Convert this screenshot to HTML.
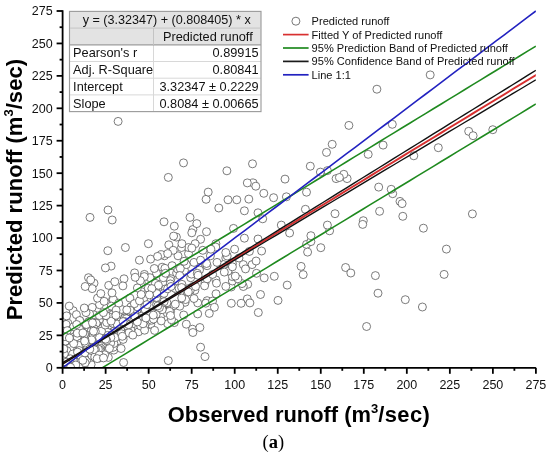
<!DOCTYPE html><html><head><meta charset="utf-8"><style>
html,body{margin:0;padding:0;background:#fff;width:550px;height:456px;overflow:hidden}
svg{display:block;font-family:"Liberation Sans",Arial,sans-serif}
</style></head><body>
<svg width="550" height="456" viewBox="0 0 550 456">
<defs><clipPath id="pc"><rect x="62.60" y="0.00" width="473.30" height="367.80"/></clipPath></defs>
<g clip-path="url(#pc)" fill="#fff" stroke="#505050" stroke-width="0.75">
<circle cx="177.5" cy="290.3" r="4.0"/>
<circle cx="231.2" cy="287.0" r="4.0"/>
<circle cx="73.6" cy="367.3" r="4.0"/>
<circle cx="225.8" cy="258.0" r="4.0"/>
<circle cx="327.4" cy="170.6" r="4.0"/>
<circle cx="220.5" cy="265.3" r="4.0"/>
<circle cx="88.3" cy="329.7" r="4.0"/>
<circle cx="156.0" cy="290.2" r="4.0"/>
<circle cx="305.4" cy="209.3" r="4.0"/>
<circle cx="170.6" cy="311.5" r="4.0"/>
<circle cx="94.0" cy="283.2" r="4.0"/>
<circle cx="107.6" cy="335.4" r="4.0"/>
<circle cx="141.2" cy="291.5" r="4.0"/>
<circle cx="66.8" cy="367.0" r="4.0"/>
<circle cx="100.8" cy="328.4" r="4.0"/>
<circle cx="117.7" cy="331.0" r="4.0"/>
<circle cx="93.4" cy="352.5" r="4.0"/>
<circle cx="65.7" cy="340.7" r="4.0"/>
<circle cx="92.5" cy="355.1" r="4.0"/>
<circle cx="207.1" cy="300.7" r="4.0"/>
<circle cx="113.7" cy="300.6" r="4.0"/>
<circle cx="110.9" cy="343.4" r="4.0"/>
<circle cx="98.5" cy="337.9" r="4.0"/>
<circle cx="101.7" cy="348.7" r="4.0"/>
<circle cx="87.2" cy="354.4" r="4.0"/>
<circle cx="392.7" cy="193.7" r="4.0"/>
<circle cx="227.2" cy="270.0" r="4.0"/>
<circle cx="205.0" cy="283.2" r="4.0"/>
<circle cx="158.4" cy="276.7" r="4.0"/>
<circle cx="105.4" cy="342.9" r="4.0"/>
<circle cx="413.8" cy="155.8" r="4.0"/>
<circle cx="347.1" cy="178.6" r="4.0"/>
<circle cx="93.7" cy="314.7" r="4.0"/>
<circle cx="112.5" cy="324.5" r="4.0"/>
<circle cx="99.5" cy="304.7" r="4.0"/>
<circle cx="140.0" cy="319.1" r="4.0"/>
<circle cx="147.5" cy="301.6" r="4.0"/>
<circle cx="260.5" cy="294.5" r="4.0"/>
<circle cx="68.0" cy="358.4" r="4.0"/>
<circle cx="112.6" cy="299.6" r="4.0"/>
<circle cx="286.4" cy="196.8" r="4.0"/>
<circle cx="378.7" cy="187.1" r="4.0"/>
<circle cx="161.3" cy="302.7" r="4.0"/>
<circle cx="123.6" cy="362.5" r="4.0"/>
<circle cx="88.4" cy="321.9" r="4.0"/>
<circle cx="100.1" cy="336.0" r="4.0"/>
<circle cx="142.4" cy="313.8" r="4.0"/>
<circle cx="247.3" cy="298.9" r="4.0"/>
<circle cx="141.3" cy="282.6" r="4.0"/>
<circle cx="155.4" cy="283.4" r="4.0"/>
<circle cx="71.4" cy="361.6" r="4.0"/>
<circle cx="164.4" cy="255.8" r="4.0"/>
<circle cx="127.0" cy="329.9" r="4.0"/>
<circle cx="88.3" cy="335.7" r="4.0"/>
<circle cx="119.8" cy="337.5" r="4.0"/>
<circle cx="143.6" cy="298.9" r="4.0"/>
<circle cx="100.5" cy="334.8" r="4.0"/>
<circle cx="152.9" cy="305.8" r="4.0"/>
<circle cx="66.3" cy="349.5" r="4.0"/>
<circle cx="70.6" cy="354.5" r="4.0"/>
<circle cx="112.7" cy="326.2" r="4.0"/>
<circle cx="88.5" cy="277.7" r="4.0"/>
<circle cx="197.7" cy="302.9" r="4.0"/>
<circle cx="167.1" cy="277.4" r="4.0"/>
<circle cx="161.6" cy="298.4" r="4.0"/>
<circle cx="232.4" cy="281.0" r="4.0"/>
<circle cx="150.6" cy="259.1" r="4.0"/>
<circle cx="244.4" cy="210.8" r="4.0"/>
<circle cx="78.8" cy="327.9" r="4.0"/>
<circle cx="472.4" cy="213.9" r="4.0"/>
<circle cx="129.9" cy="298.1" r="4.0"/>
<circle cx="306.5" cy="192.2" r="4.0"/>
<circle cx="102.5" cy="343.4" r="4.0"/>
<circle cx="129.9" cy="330.4" r="4.0"/>
<circle cx="70.3" cy="348.8" r="4.0"/>
<circle cx="368.2" cy="154.3" r="4.0"/>
<circle cx="101.5" cy="331.1" r="4.0"/>
<circle cx="329.6" cy="230.8" r="4.0"/>
<circle cx="134.3" cy="326.7" r="4.0"/>
<circle cx="278.0" cy="300.4" r="4.0"/>
<circle cx="161.1" cy="254.7" r="4.0"/>
<circle cx="113.4" cy="336.6" r="4.0"/>
<circle cx="90.7" cy="354.6" r="4.0"/>
<circle cx="423.4" cy="228.2" r="4.0"/>
<circle cx="165.7" cy="304.0" r="4.0"/>
<circle cx="127.0" cy="330.2" r="4.0"/>
<circle cx="137.4" cy="287.9" r="4.0"/>
<circle cx="190.7" cy="277.7" r="4.0"/>
<circle cx="247.7" cy="284.3" r="4.0"/>
<circle cx="186.3" cy="324.2" r="4.0"/>
<circle cx="263.8" cy="193.3" r="4.0"/>
<circle cx="91.1" cy="364.5" r="4.0"/>
<circle cx="185.1" cy="302.3" r="4.0"/>
<circle cx="96.9" cy="322.8" r="4.0"/>
<circle cx="97.5" cy="298.2" r="4.0"/>
<circle cx="118.5" cy="315.3" r="4.0"/>
<circle cx="194.9" cy="290.3" r="4.0"/>
<circle cx="345.6" cy="267.5" r="4.0"/>
<circle cx="205.5" cy="264.8" r="4.0"/>
<circle cx="115.3" cy="324.5" r="4.0"/>
<circle cx="176.6" cy="273.0" r="4.0"/>
<circle cx="113.7" cy="333.9" r="4.0"/>
<circle cx="400.0" cy="201.4" r="4.0"/>
<circle cx="348.9" cy="125.4" r="4.0"/>
<circle cx="67.9" cy="323.2" r="4.0"/>
<circle cx="128.2" cy="311.5" r="4.0"/>
<circle cx="379.6" cy="211.3" r="4.0"/>
<circle cx="129.5" cy="314.4" r="4.0"/>
<circle cx="239.0" cy="258.0" r="4.0"/>
<circle cx="177.5" cy="269.0" r="4.0"/>
<circle cx="468.7" cy="131.3" r="4.0"/>
<circle cx="91.1" cy="331.1" r="4.0"/>
<circle cx="148.8" cy="324.5" r="4.0"/>
<circle cx="162.2" cy="267.2" r="4.0"/>
<circle cx="96.4" cy="351.5" r="4.0"/>
<circle cx="82.1" cy="335.5" r="4.0"/>
<circle cx="205.8" cy="303.2" r="4.0"/>
<circle cx="66.2" cy="361.6" r="4.0"/>
<circle cx="375.4" cy="275.6" r="4.0"/>
<circle cx="473.1" cy="135.7" r="4.0"/>
<circle cx="281.3" cy="225.1" r="4.0"/>
<circle cx="92.2" cy="307.4" r="4.0"/>
<circle cx="86.4" cy="359.9" r="4.0"/>
<circle cx="117.5" cy="327.8" r="4.0"/>
<circle cx="99.4" cy="358.0" r="4.0"/>
<circle cx="106.3" cy="340.4" r="4.0"/>
<circle cx="126.0" cy="312.6" r="4.0"/>
<circle cx="146.6" cy="318.3" r="4.0"/>
<circle cx="156.5" cy="273.3" r="4.0"/>
<circle cx="89.6" cy="313.9" r="4.0"/>
<circle cx="332.2" cy="144.3" r="4.0"/>
<circle cx="185.5" cy="299.5" r="4.0"/>
<circle cx="326.5" cy="152.4" r="4.0"/>
<circle cx="130.9" cy="306.9" r="4.0"/>
<circle cx="204.6" cy="285.8" r="4.0"/>
<circle cx="150.8" cy="324.2" r="4.0"/>
<circle cx="320.4" cy="172.1" r="4.0"/>
<circle cx="258.3" cy="312.5" r="4.0"/>
<circle cx="73.2" cy="310.7" r="4.0"/>
<circle cx="146.9" cy="321.9" r="4.0"/>
<circle cx="68.3" cy="331.0" r="4.0"/>
<circle cx="144.4" cy="274.4" r="4.0"/>
<circle cx="103.7" cy="350.7" r="4.0"/>
<circle cx="83.5" cy="363.2" r="4.0"/>
<circle cx="363.3" cy="220.7" r="4.0"/>
<circle cx="102.0" cy="319.2" r="4.0"/>
<circle cx="106.2" cy="340.0" r="4.0"/>
<circle cx="74.8" cy="356.6" r="4.0"/>
<circle cx="264.2" cy="277.9" r="4.0"/>
<circle cx="80.2" cy="360.6" r="4.0"/>
<circle cx="142.2" cy="310.4" r="4.0"/>
<circle cx="135.9" cy="321.6" r="4.0"/>
<circle cx="105.9" cy="352.2" r="4.0"/>
<circle cx="134.6" cy="272.9" r="4.0"/>
<circle cx="137.7" cy="320.0" r="4.0"/>
<circle cx="80.4" cy="361.2" r="4.0"/>
<circle cx="80.0" cy="356.7" r="4.0"/>
<circle cx="80.1" cy="330.7" r="4.0"/>
<circle cx="191.4" cy="274.1" r="4.0"/>
<circle cx="64.2" cy="353.0" r="4.0"/>
<circle cx="92.2" cy="288.6" r="4.0"/>
<circle cx="233.5" cy="228.4" r="4.0"/>
<circle cx="88.1" cy="344.7" r="4.0"/>
<circle cx="165.5" cy="288.9" r="4.0"/>
<circle cx="67.9" cy="339.0" r="4.0"/>
<circle cx="218.8" cy="208.0" r="4.0"/>
<circle cx="126.7" cy="315.1" r="4.0"/>
<circle cx="157.6" cy="256.4" r="4.0"/>
<circle cx="149.9" cy="277.7" r="4.0"/>
<circle cx="492.8" cy="129.7" r="4.0"/>
<circle cx="90.4" cy="335.2" r="4.0"/>
<circle cx="438.3" cy="147.7" r="4.0"/>
<circle cx="241.1" cy="303.3" r="4.0"/>
<circle cx="161.0" cy="304.0" r="4.0"/>
<circle cx="212.5" cy="301.1" r="4.0"/>
<circle cx="181.9" cy="284.3" r="4.0"/>
<circle cx="199.5" cy="270.0" r="4.0"/>
<circle cx="175.2" cy="288.4" r="4.0"/>
<circle cx="145.3" cy="314.3" r="4.0"/>
<circle cx="210.4" cy="255.8" r="4.0"/>
<circle cx="96.2" cy="323.2" r="4.0"/>
<circle cx="86.4" cy="355.4" r="4.0"/>
<circle cx="127.3" cy="310.8" r="4.0"/>
<circle cx="227.2" cy="256.0" r="4.0"/>
<circle cx="79.8" cy="320.7" r="4.0"/>
<circle cx="190.0" cy="217.4" r="4.0"/>
<circle cx="69.3" cy="340.3" r="4.0"/>
<circle cx="174.1" cy="305.7" r="4.0"/>
<circle cx="258.0" cy="239.0" r="4.0"/>
<circle cx="80.6" cy="360.3" r="4.0"/>
<circle cx="179.8" cy="306.2" r="4.0"/>
<circle cx="66.0" cy="328.2" r="4.0"/>
<circle cx="100.8" cy="293.6" r="4.0"/>
<circle cx="178.0" cy="255.8" r="4.0"/>
<circle cx="79.1" cy="353.1" r="4.0"/>
<circle cx="192.9" cy="229.5" r="4.0"/>
<circle cx="215.9" cy="243.7" r="4.0"/>
<circle cx="422.4" cy="307.0" r="4.0"/>
<circle cx="127.8" cy="311.7" r="4.0"/>
<circle cx="89.8" cy="350.2" r="4.0"/>
<circle cx="110.7" cy="344.6" r="4.0"/>
<circle cx="301.1" cy="266.4" r="4.0"/>
<circle cx="182.9" cy="272.2" r="4.0"/>
<circle cx="171.0" cy="278.8" r="4.0"/>
<circle cx="69.2" cy="306.1" r="4.0"/>
<circle cx="92.9" cy="335.0" r="4.0"/>
<circle cx="88.4" cy="339.5" r="4.0"/>
<circle cx="214.4" cy="307.3" r="4.0"/>
<circle cx="67.7" cy="353.8" r="4.0"/>
<circle cx="97.5" cy="340.0" r="4.0"/>
<circle cx="137.9" cy="307.1" r="4.0"/>
<circle cx="200.6" cy="239.3" r="4.0"/>
<circle cx="122.2" cy="325.8" r="4.0"/>
<circle cx="391.2" cy="189.3" r="4.0"/>
<circle cx="145.4" cy="313.5" r="4.0"/>
<circle cx="206.1" cy="199.3" r="4.0"/>
<circle cx="192.5" cy="329.2" r="4.0"/>
<circle cx="289.6" cy="233.0" r="4.0"/>
<circle cx="205.0" cy="356.6" r="4.0"/>
<circle cx="249.4" cy="251.4" r="4.0"/>
<circle cx="81.3" cy="352.1" r="4.0"/>
<circle cx="188.5" cy="253.6" r="4.0"/>
<circle cx="82.2" cy="358.2" r="4.0"/>
<circle cx="392.3" cy="124.3" r="4.0"/>
<circle cx="63.6" cy="359.8" r="4.0"/>
<circle cx="335.0" cy="213.7" r="4.0"/>
<circle cx="77.3" cy="338.1" r="4.0"/>
<circle cx="107.8" cy="250.7" r="4.0"/>
<circle cx="77.8" cy="350.1" r="4.0"/>
<circle cx="121.2" cy="336.9" r="4.0"/>
<circle cx="82.7" cy="357.5" r="4.0"/>
<circle cx="200.6" cy="347.2" r="4.0"/>
<circle cx="80.5" cy="356.0" r="4.0"/>
<circle cx="101.7" cy="346.0" r="4.0"/>
<circle cx="134.4" cy="303.7" r="4.0"/>
<circle cx="67.2" cy="347.7" r="4.0"/>
<circle cx="106.0" cy="343.2" r="4.0"/>
<circle cx="188.5" cy="247.5" r="4.0"/>
<circle cx="99.6" cy="357.5" r="4.0"/>
<circle cx="140.9" cy="317.1" r="4.0"/>
<circle cx="100.7" cy="348.5" r="4.0"/>
<circle cx="148.3" cy="288.2" r="4.0"/>
<circle cx="114.6" cy="327.6" r="4.0"/>
<circle cx="81.1" cy="330.4" r="4.0"/>
<circle cx="207.1" cy="265.7" r="4.0"/>
<circle cx="122.0" cy="332.7" r="4.0"/>
<circle cx="85.2" cy="324.3" r="4.0"/>
<circle cx="86.3" cy="324.5" r="4.0"/>
<circle cx="243.3" cy="264.6" r="4.0"/>
<circle cx="124.0" cy="319.5" r="4.0"/>
<circle cx="209.3" cy="313.4" r="4.0"/>
<circle cx="109.4" cy="324.9" r="4.0"/>
<circle cx="69.9" cy="355.3" r="4.0"/>
<circle cx="136.4" cy="326.0" r="4.0"/>
<circle cx="195.1" cy="243.7" r="4.0"/>
<circle cx="170.3" cy="280.6" r="4.0"/>
<circle cx="76.4" cy="314.6" r="4.0"/>
<circle cx="108.0" cy="210.0" r="4.0"/>
<circle cx="184.4" cy="261.5" r="4.0"/>
<circle cx="67.4" cy="366.0" r="4.0"/>
<circle cx="170.3" cy="283.9" r="4.0"/>
<circle cx="163.3" cy="277.7" r="4.0"/>
<circle cx="94.8" cy="341.9" r="4.0"/>
<circle cx="111.5" cy="343.3" r="4.0"/>
<circle cx="142.9" cy="322.5" r="4.0"/>
<circle cx="122.9" cy="329.4" r="4.0"/>
<circle cx="79.7" cy="320.5" r="4.0"/>
<circle cx="144.3" cy="276.6" r="4.0"/>
<circle cx="192.9" cy="286.5" r="4.0"/>
<circle cx="132.2" cy="331.1" r="4.0"/>
<circle cx="79.5" cy="329.2" r="4.0"/>
<circle cx="405.3" cy="299.7" r="4.0"/>
<circle cx="87.6" cy="344.4" r="4.0"/>
<circle cx="126.1" cy="313.4" r="4.0"/>
<circle cx="76.8" cy="362.5" r="4.0"/>
<circle cx="243.3" cy="286.5" r="4.0"/>
<circle cx="336.1" cy="178.6" r="4.0"/>
<circle cx="91.6" cy="350.7" r="4.0"/>
<circle cx="90.5" cy="357.4" r="4.0"/>
<circle cx="236.8" cy="199.8" r="4.0"/>
<circle cx="66.1" cy="324.4" r="4.0"/>
<circle cx="306.5" cy="244.4" r="4.0"/>
<circle cx="86.0" cy="312.6" r="4.0"/>
<circle cx="79.1" cy="366.9" r="4.0"/>
<circle cx="252.5" cy="163.8" r="4.0"/>
<circle cx="118.1" cy="121.4" r="4.0"/>
<circle cx="232.4" cy="263.5" r="4.0"/>
<circle cx="118.3" cy="326.0" r="4.0"/>
<circle cx="168.3" cy="177.4" r="4.0"/>
<circle cx="157.7" cy="300.2" r="4.0"/>
<circle cx="117.7" cy="321.3" r="4.0"/>
<circle cx="144.2" cy="310.5" r="4.0"/>
<circle cx="113.8" cy="350.1" r="4.0"/>
<circle cx="162.7" cy="306.6" r="4.0"/>
<circle cx="95.2" cy="353.1" r="4.0"/>
<circle cx="73.2" cy="361.4" r="4.0"/>
<circle cx="69.9" cy="330.4" r="4.0"/>
<circle cx="76.0" cy="344.8" r="4.0"/>
<circle cx="168.8" cy="244.8" r="4.0"/>
<circle cx="112.2" cy="220.0" r="4.0"/>
<circle cx="184.4" cy="270.4" r="4.0"/>
<circle cx="176.4" cy="237.1" r="4.0"/>
<circle cx="119.7" cy="333.9" r="4.0"/>
<circle cx="72.9" cy="359.0" r="4.0"/>
<circle cx="75.0" cy="345.8" r="4.0"/>
<circle cx="156.5" cy="304.7" r="4.0"/>
<circle cx="310.9" cy="241.6" r="4.0"/>
<circle cx="63.6" cy="344.7" r="4.0"/>
<circle cx="100.0" cy="350.0" r="4.0"/>
<circle cx="117.6" cy="340.9" r="4.0"/>
<circle cx="124.9" cy="317.6" r="4.0"/>
<circle cx="90.8" cy="349.0" r="4.0"/>
<circle cx="65.9" cy="361.3" r="4.0"/>
<circle cx="207.1" cy="278.8" r="4.0"/>
<circle cx="165.5" cy="312.3" r="4.0"/>
<circle cx="92.4" cy="354.3" r="4.0"/>
<circle cx="327.4" cy="225.1" r="4.0"/>
<circle cx="70.4" cy="364.7" r="4.0"/>
<circle cx="226.9" cy="170.8" r="4.0"/>
<circle cx="160.4" cy="316.6" r="4.0"/>
<circle cx="65.3" cy="341.2" r="4.0"/>
<circle cx="73.4" cy="354.9" r="4.0"/>
<circle cx="112.5" cy="342.0" r="4.0"/>
<circle cx="100.7" cy="357.4" r="4.0"/>
<circle cx="109.6" cy="343.0" r="4.0"/>
<circle cx="186.3" cy="264.6" r="4.0"/>
<circle cx="402.8" cy="216.3" r="4.0"/>
<circle cx="147.7" cy="313.9" r="4.0"/>
<circle cx="93.1" cy="344.7" r="4.0"/>
<circle cx="148.4" cy="243.7" r="4.0"/>
<circle cx="183.5" cy="162.9" r="4.0"/>
<circle cx="75.6" cy="346.2" r="4.0"/>
<circle cx="123.1" cy="339.4" r="4.0"/>
<circle cx="274.3" cy="276.3" r="4.0"/>
<circle cx="256.5" cy="273.3" r="4.0"/>
<circle cx="138.7" cy="330.9" r="4.0"/>
<circle cx="154.3" cy="268.5" r="4.0"/>
<circle cx="249.9" cy="302.9" r="4.0"/>
<circle cx="93.4" cy="335.6" r="4.0"/>
<circle cx="181.5" cy="247.5" r="4.0"/>
<circle cx="169.5" cy="311.4" r="4.0"/>
<circle cx="228.0" cy="199.8" r="4.0"/>
<circle cx="197.7" cy="313.9" r="4.0"/>
<circle cx="91.6" cy="339.8" r="4.0"/>
<circle cx="70.2" cy="347.7" r="4.0"/>
<circle cx="191.8" cy="248.1" r="4.0"/>
<circle cx="85.4" cy="353.1" r="4.0"/>
<circle cx="80.4" cy="355.5" r="4.0"/>
<circle cx="141.8" cy="316.0" r="4.0"/>
<circle cx="108.7" cy="285.4" r="4.0"/>
<circle cx="111.5" cy="335.4" r="4.0"/>
<circle cx="157.7" cy="306.9" r="4.0"/>
<circle cx="113.3" cy="347.3" r="4.0"/>
<circle cx="252.1" cy="264.6" r="4.0"/>
<circle cx="66.9" cy="350.7" r="4.0"/>
<circle cx="151.7" cy="320.2" r="4.0"/>
<circle cx="90.0" cy="217.4" r="4.0"/>
<circle cx="287.2" cy="285.1" r="4.0"/>
<circle cx="444.1" cy="274.4" r="4.0"/>
<circle cx="85.0" cy="340.3" r="4.0"/>
<circle cx="124.0" cy="278.8" r="4.0"/>
<circle cx="77.1" cy="337.0" r="4.0"/>
<circle cx="78.3" cy="345.1" r="4.0"/>
<circle cx="81.1" cy="342.9" r="4.0"/>
<circle cx="173.2" cy="250.3" r="4.0"/>
<circle cx="112.6" cy="337.6" r="4.0"/>
<circle cx="124.8" cy="318.0" r="4.0"/>
<circle cx="232.4" cy="276.6" r="4.0"/>
<circle cx="164.0" cy="293.4" r="4.0"/>
<circle cx="80.2" cy="346.8" r="4.0"/>
<circle cx="215.7" cy="247.0" r="4.0"/>
<circle cx="167.7" cy="253.6" r="4.0"/>
<circle cx="107.4" cy="341.6" r="4.0"/>
<circle cx="320.8" cy="247.7" r="4.0"/>
<circle cx="127.6" cy="326.3" r="4.0"/>
<circle cx="228.0" cy="271.1" r="4.0"/>
<circle cx="164.8" cy="303.2" r="4.0"/>
<circle cx="144.6" cy="326.1" r="4.0"/>
<circle cx="63.8" cy="359.8" r="4.0"/>
<circle cx="215.9" cy="279.9" r="4.0"/>
<circle cx="116.0" cy="312.4" r="4.0"/>
<circle cx="378.0" cy="293.2" r="4.0"/>
<circle cx="79.2" cy="345.5" r="4.0"/>
<circle cx="121.5" cy="309.4" r="4.0"/>
<circle cx="303.2" cy="274.6" r="4.0"/>
<circle cx="63.3" cy="360.7" r="4.0"/>
<circle cx="114.8" cy="281.7" r="4.0"/>
<circle cx="310.9" cy="235.7" r="4.0"/>
<circle cx="183.7" cy="315.0" r="4.0"/>
<circle cx="114.5" cy="322.2" r="4.0"/>
<circle cx="113.9" cy="343.5" r="4.0"/>
<circle cx="99.4" cy="315.5" r="4.0"/>
<circle cx="199.9" cy="327.5" r="4.0"/>
<circle cx="110.7" cy="343.1" r="4.0"/>
<circle cx="84.5" cy="334.0" r="4.0"/>
<circle cx="197.3" cy="273.3" r="4.0"/>
<circle cx="310.3" cy="166.2" r="4.0"/>
<circle cx="402.1" cy="203.6" r="4.0"/>
<circle cx="108.3" cy="357.4" r="4.0"/>
<circle cx="167.7" cy="323.7" r="4.0"/>
<circle cx="89.2" cy="347.3" r="4.0"/>
<circle cx="125.1" cy="333.6" r="4.0"/>
<circle cx="223.6" cy="264.6" r="4.0"/>
<circle cx="106.7" cy="318.9" r="4.0"/>
<circle cx="140.3" cy="280.7" r="4.0"/>
<circle cx="273.6" cy="197.7" r="4.0"/>
<circle cx="86.5" cy="360.4" r="4.0"/>
<circle cx="62.9" cy="364.7" r="4.0"/>
<circle cx="167.6" cy="288.8" r="4.0"/>
<circle cx="120.7" cy="330.2" r="4.0"/>
<circle cx="256.1" cy="261.0" r="4.0"/>
<circle cx="153.2" cy="317.7" r="4.0"/>
<circle cx="231.3" cy="303.3" r="4.0"/>
<circle cx="180.3" cy="268.6" r="4.0"/>
<circle cx="109.4" cy="348.5" r="4.0"/>
<circle cx="156.5" cy="297.5" r="4.0"/>
<circle cx="174.3" cy="322.6" r="4.0"/>
<circle cx="232.4" cy="266.8" r="4.0"/>
<circle cx="172.1" cy="265.7" r="4.0"/>
<circle cx="224.3" cy="272.1" r="4.0"/>
<circle cx="94.2" cy="328.8" r="4.0"/>
<circle cx="95.3" cy="331.5" r="4.0"/>
<circle cx="242.0" cy="283.6" r="4.0"/>
<circle cx="206.5" cy="263.5" r="4.0"/>
<circle cx="98.4" cy="349.2" r="4.0"/>
<circle cx="159.6" cy="309.9" r="4.0"/>
<circle cx="262.7" cy="218.8" r="4.0"/>
<circle cx="138.4" cy="318.0" r="4.0"/>
<circle cx="114.5" cy="324.1" r="4.0"/>
<circle cx="210.9" cy="249.2" r="4.0"/>
<circle cx="196.8" cy="223.6" r="4.0"/>
<circle cx="138.4" cy="328.5" r="4.0"/>
<circle cx="111.6" cy="318.3" r="4.0"/>
<circle cx="166.9" cy="302.7" r="4.0"/>
<circle cx="87.6" cy="347.1" r="4.0"/>
<circle cx="194.0" cy="262.4" r="4.0"/>
<circle cx="366.6" cy="326.5" r="4.0"/>
<circle cx="113.3" cy="299.5" r="4.0"/>
<circle cx="156.9" cy="293.6" r="4.0"/>
<circle cx="198.1" cy="275.3" r="4.0"/>
<circle cx="73.6" cy="326.8" r="4.0"/>
<circle cx="67.2" cy="330.7" r="4.0"/>
<circle cx="202.8" cy="250.3" r="4.0"/>
<circle cx="138.6" cy="331.8" r="4.0"/>
<circle cx="128.9" cy="332.8" r="4.0"/>
<circle cx="225.8" cy="286.4" r="4.0"/>
<circle cx="84.3" cy="308.0" r="4.0"/>
<circle cx="118.7" cy="303.2" r="4.0"/>
<circle cx="92.5" cy="322.9" r="4.0"/>
<circle cx="171.5" cy="319.7" r="4.0"/>
<circle cx="130.1" cy="310.3" r="4.0"/>
<circle cx="111.1" cy="266.1" r="4.0"/>
<circle cx="181.9" cy="243.7" r="4.0"/>
<circle cx="96.2" cy="356.3" r="4.0"/>
<circle cx="244.4" cy="238.2" r="4.0"/>
<circle cx="90.2" cy="349.2" r="4.0"/>
<circle cx="72.6" cy="354.1" r="4.0"/>
<circle cx="139.5" cy="300.8" r="4.0"/>
<circle cx="140.6" cy="326.0" r="4.0"/>
<circle cx="171.0" cy="286.5" r="4.0"/>
<circle cx="156.1" cy="314.4" r="4.0"/>
<circle cx="179.7" cy="275.5" r="4.0"/>
<circle cx="141.2" cy="294.5" r="4.0"/>
<circle cx="189.2" cy="288.4" r="4.0"/>
<circle cx="253.2" cy="182.9" r="4.0"/>
<circle cx="164.9" cy="268.3" r="4.0"/>
<circle cx="79.2" cy="350.5" r="4.0"/>
<circle cx="73.7" cy="343.6" r="4.0"/>
<circle cx="77.5" cy="352.1" r="4.0"/>
<circle cx="144.6" cy="330.2" r="4.0"/>
<circle cx="105.4" cy="267.9" r="4.0"/>
<circle cx="200.6" cy="260.2" r="4.0"/>
<circle cx="64.3" cy="353.9" r="4.0"/>
<circle cx="99.5" cy="337.6" r="4.0"/>
<circle cx="109.5" cy="314.5" r="4.0"/>
<circle cx="125.4" cy="247.5" r="4.0"/>
<circle cx="212.6" cy="274.4" r="4.0"/>
<circle cx="71.2" cy="364.2" r="4.0"/>
<circle cx="186.7" cy="290.9" r="4.0"/>
<circle cx="144.8" cy="306.6" r="4.0"/>
<circle cx="164.0" cy="221.8" r="4.0"/>
<circle cx="121.1" cy="348.5" r="4.0"/>
<circle cx="164.1" cy="301.7" r="4.0"/>
<circle cx="115.4" cy="337.5" r="4.0"/>
<circle cx="153.5" cy="319.1" r="4.0"/>
<circle cx="85.0" cy="352.9" r="4.0"/>
<circle cx="95.4" cy="349.5" r="4.0"/>
<circle cx="66.7" cy="363.2" r="4.0"/>
<circle cx="158.4" cy="285.3" r="4.0"/>
<circle cx="206.5" cy="231.7" r="4.0"/>
<circle cx="165.5" cy="273.3" r="4.0"/>
<circle cx="112.7" cy="323.3" r="4.0"/>
<circle cx="216.5" cy="283.2" r="4.0"/>
<circle cx="132.8" cy="335.1" r="4.0"/>
<circle cx="258.0" cy="212.8" r="4.0"/>
<circle cx="162.0" cy="308.2" r="4.0"/>
<circle cx="93.5" cy="331.2" r="4.0"/>
<circle cx="67.8" cy="363.7" r="4.0"/>
<circle cx="104.1" cy="301.3" r="4.0"/>
<circle cx="77.3" cy="333.2" r="4.0"/>
<circle cx="112.6" cy="314.6" r="4.0"/>
<circle cx="71.3" cy="363.8" r="4.0"/>
<circle cx="105.2" cy="325.0" r="4.0"/>
<circle cx="143.0" cy="323.8" r="4.0"/>
<circle cx="111.3" cy="306.1" r="4.0"/>
<circle cx="66.6" cy="315.9" r="4.0"/>
<circle cx="105.5" cy="338.7" r="4.0"/>
<circle cx="121.3" cy="333.7" r="4.0"/>
<circle cx="383.1" cy="145.1" r="4.0"/>
<circle cx="126.3" cy="318.7" r="4.0"/>
<circle cx="112.0" cy="292.9" r="4.0"/>
<circle cx="73.0" cy="363.8" r="4.0"/>
<circle cx="91.9" cy="355.6" r="4.0"/>
<circle cx="190.4" cy="290.0" r="4.0"/>
<circle cx="184.1" cy="261.3" r="4.0"/>
<circle cx="67.8" cy="364.8" r="4.0"/>
<circle cx="72.2" cy="363.8" r="4.0"/>
<circle cx="162.2" cy="309.7" r="4.0"/>
<circle cx="106.7" cy="322.5" r="4.0"/>
<circle cx="208.2" cy="192.1" r="4.0"/>
<circle cx="192.9" cy="332.5" r="4.0"/>
<circle cx="446.4" cy="249.1" r="4.0"/>
<circle cx="139.4" cy="260.2" r="4.0"/>
<circle cx="76.7" cy="324.5" r="4.0"/>
<circle cx="175.3" cy="304.2" r="4.0"/>
<circle cx="124.8" cy="321.6" r="4.0"/>
<circle cx="134.8" cy="316.3" r="4.0"/>
<circle cx="63.8" cy="348.9" r="4.0"/>
<circle cx="91.7" cy="350.7" r="4.0"/>
<circle cx="85.1" cy="362.8" r="4.0"/>
<circle cx="343.8" cy="174.3" r="4.0"/>
<circle cx="339.4" cy="177.5" r="4.0"/>
<circle cx="194.0" cy="298.5" r="4.0"/>
<circle cx="108.9" cy="316.8" r="4.0"/>
<circle cx="179.1" cy="288.4" r="4.0"/>
<circle cx="64.9" cy="336.6" r="4.0"/>
<circle cx="135.2" cy="277.3" r="4.0"/>
<circle cx="195.6" cy="286.5" r="4.0"/>
<circle cx="110.8" cy="337.6" r="4.0"/>
<circle cx="376.9" cy="89.2" r="4.0"/>
<circle cx="94.7" cy="357.0" r="4.0"/>
<circle cx="362.7" cy="224.4" r="4.0"/>
<circle cx="145.2" cy="309.7" r="4.0"/>
<circle cx="117.1" cy="324.1" r="4.0"/>
<circle cx="261.6" cy="251.0" r="4.0"/>
<circle cx="237.9" cy="278.8" r="4.0"/>
<circle cx="69.4" cy="338.0" r="4.0"/>
<circle cx="73.2" cy="360.4" r="4.0"/>
<circle cx="122.9" cy="285.9" r="4.0"/>
<circle cx="168.3" cy="360.6" r="4.0"/>
<circle cx="82.8" cy="360.3" r="4.0"/>
<circle cx="245.5" cy="268.9" r="4.0"/>
<circle cx="75.8" cy="365.0" r="4.0"/>
<circle cx="247.3" cy="182.9" r="4.0"/>
<circle cx="85.3" cy="343.0" r="4.0"/>
<circle cx="188.3" cy="291.9" r="4.0"/>
<circle cx="104.6" cy="354.8" r="4.0"/>
<circle cx="159.4" cy="307.6" r="4.0"/>
<circle cx="94.2" cy="349.7" r="4.0"/>
<circle cx="82.9" cy="332.9" r="4.0"/>
<circle cx="147.0" cy="304.6" r="4.0"/>
<circle cx="106.7" cy="340.5" r="4.0"/>
<circle cx="181.7" cy="298.0" r="4.0"/>
<circle cx="111.1" cy="321.1" r="4.0"/>
<circle cx="70.4" cy="358.8" r="4.0"/>
<circle cx="151.8" cy="288.6" r="4.0"/>
<circle cx="137.3" cy="321.9" r="4.0"/>
<circle cx="173.6" cy="236.1" r="4.0"/>
<circle cx="248.8" cy="199.1" r="4.0"/>
<circle cx="350.8" cy="273.0" r="4.0"/>
<circle cx="89.8" cy="349.2" r="4.0"/>
<circle cx="191.8" cy="232.8" r="4.0"/>
<circle cx="126.8" cy="309.9" r="4.0"/>
<circle cx="99.3" cy="355.1" r="4.0"/>
<circle cx="105.7" cy="339.2" r="4.0"/>
<circle cx="97.2" cy="358.6" r="4.0"/>
<circle cx="128.7" cy="324.7" r="4.0"/>
<circle cx="63.6" cy="360.9" r="4.0"/>
<circle cx="255.8" cy="186.2" r="4.0"/>
<circle cx="66.3" cy="362.2" r="4.0"/>
<circle cx="285.0" cy="179.1" r="4.0"/>
<circle cx="217.0" cy="262.4" r="4.0"/>
<circle cx="307.6" cy="252.1" r="4.0"/>
<circle cx="85.2" cy="286.5" r="4.0"/>
<circle cx="106.0" cy="315.6" r="4.0"/>
<circle cx="149.4" cy="294.9" r="4.0"/>
<circle cx="234.6" cy="249.2" r="4.0"/>
<circle cx="154.6" cy="330.4" r="4.0"/>
<circle cx="225.8" cy="252.5" r="4.0"/>
<circle cx="103.5" cy="357.9" r="4.0"/>
<circle cx="122.3" cy="336.3" r="4.0"/>
<circle cx="181.6" cy="287.5" r="4.0"/>
<circle cx="157.8" cy="305.9" r="4.0"/>
<circle cx="123.1" cy="321.6" r="4.0"/>
<circle cx="103.4" cy="312.6" r="4.0"/>
<circle cx="161.2" cy="320.9" r="4.0"/>
<circle cx="170.5" cy="315.5" r="4.0"/>
<circle cx="70.6" cy="367.3" r="4.0"/>
<circle cx="116.1" cy="310.1" r="4.0"/>
<circle cx="90.7" cy="279.9" r="4.0"/>
<circle cx="430.2" cy="74.9" r="4.0"/>
<circle cx="216.0" cy="293.8" r="4.0"/>
<circle cx="115.9" cy="315.3" r="4.0"/>
<circle cx="84.6" cy="341.1" r="4.0"/>
<circle cx="174.3" cy="226.2" r="4.0"/>
<circle cx="153.3" cy="315.1" r="4.0"/>
<circle cx="235.3" cy="276.1" r="4.0"/>
<circle cx="145.9" cy="318.0" r="4.0"/>
</g>
<g clip-path="url(#pc)" fill="none" stroke-width="1.6" stroke-linejoin="round">
<polyline stroke="#1f8a1f" points="62.60,334.93 70.49,330.13 78.38,325.32 86.27,320.52 94.15,315.71 102.04,310.90 109.93,306.10 117.82,301.29 125.71,296.48 133.59,291.67 141.48,286.87 149.37,282.06 157.26,277.25 165.15,272.44 173.04,267.63 180.92,262.82 188.81,258.01 196.70,253.20 204.59,248.39 212.48,243.58 220.37,238.77 228.25,233.96 236.14,229.15 244.03,224.34 251.92,219.52 259.81,214.71 267.70,209.90 275.58,205.09 283.47,200.27 291.36,195.46 299.25,190.65 307.14,185.83 315.03,181.02 322.92,176.20 330.80,171.39 338.69,166.58 346.58,161.76 354.47,156.94 362.36,152.13 370.25,147.31 378.13,142.50 386.02,137.68 393.91,132.86 401.80,128.05 409.69,123.23 417.57,118.41 425.46,113.59 433.35,108.77 441.24,103.96 449.13,99.14 457.02,94.32 464.91,89.50 472.79,84.68 480.68,79.86 488.57,75.04 496.46,70.22 504.35,65.40 512.24,60.58 520.12,55.76 528.01,50.93 535.90,46.11"/>
<polyline stroke="#1f8a1f" points="62.60,392.04 70.49,387.23 78.38,382.42 86.27,377.62 94.15,372.81 102.04,368.00 109.93,363.19 117.82,358.38 125.71,353.58 133.59,348.77 141.48,343.96 149.37,339.16 157.26,334.35 165.15,329.55 173.04,324.74 180.92,319.93 188.81,315.13 196.70,310.33 204.59,305.52 212.48,300.72 220.37,295.91 228.25,291.11 236.14,286.31 244.03,281.50 251.92,276.70 259.81,271.90 267.70,267.10 275.58,262.29 283.47,257.49 291.36,252.69 299.25,247.89 307.14,243.09 315.03,238.29 322.92,233.49 330.80,228.69 338.69,223.89 346.58,219.09 354.47,214.29 362.36,209.49 370.25,204.69 378.13,199.89 386.02,195.10 393.91,190.30 401.80,185.50 409.69,180.70 417.57,175.91 425.46,171.11 433.35,166.31 441.24,161.52 449.13,156.72 457.02,151.93 464.91,147.13 472.79,142.34 480.68,137.54 488.57,132.75 496.46,127.95 504.35,123.16 512.24,118.37 520.12,113.57 528.01,108.78 535.90,103.99"/>
<polygon fill="#d83030" stroke="none" points="62.60,362.72 70.49,357.98 78.38,353.24 86.27,348.49 94.15,343.73 102.04,338.96 109.93,334.18 117.82,329.38 125.71,324.57 133.59,319.73 141.48,314.89 149.37,310.03 157.26,305.16 165.15,300.29 173.04,295.41 180.92,290.53 188.81,285.65 196.70,280.76 204.59,275.87 212.48,271.00 220.37,266.19 228.25,261.38 236.14,256.58 244.03,251.77 251.92,246.96 259.81,242.16 267.70,237.35 275.58,232.54 283.47,227.73 291.36,222.93 299.25,218.12 307.14,213.31 315.03,208.50 322.92,203.70 330.80,198.89 338.69,194.08 346.58,189.27 354.47,184.47 362.36,179.66 370.25,174.85 378.13,170.05 386.02,165.24 393.91,160.43 401.80,155.62 409.69,150.82 417.57,146.01 425.46,141.20 433.35,136.39 441.24,131.59 449.13,126.78 457.02,121.97 464.91,117.16 472.79,112.36 480.68,107.55 488.57,102.74 496.46,97.94 504.35,93.13 512.24,88.32 520.12,83.51 528.01,78.71 535.90,73.90 535.90,76.20 528.01,81.01 520.12,85.81 512.24,90.62 504.35,95.43 496.46,100.24 488.57,105.04 480.68,109.85 472.79,114.66 464.91,119.46 457.02,124.27 449.13,129.08 441.24,133.89 433.35,138.69 425.46,143.50 417.57,148.31 409.69,153.12 401.80,157.92 393.91,162.73 386.02,167.54 378.13,172.35 370.25,177.15 362.36,181.96 354.47,186.77 346.58,191.57 338.69,196.38 330.80,201.19 322.92,206.00 315.03,210.80 307.14,215.61 299.25,220.42 291.36,225.23 283.47,230.03 275.58,234.84 267.70,239.65 259.81,244.46 251.92,249.26 244.03,254.07 236.14,258.88 228.25,263.68 220.37,268.49 212.48,273.30 204.59,278.04 196.70,282.77 188.81,287.49 180.92,292.23 173.04,296.96 165.15,301.70 157.26,306.44 149.37,311.19 141.48,315.94 133.59,320.71 125.71,325.49 117.82,330.29 109.93,335.11 102.04,339.94 94.15,344.78 86.27,349.64 78.38,354.51 70.49,359.38 62.60,364.26"/>
<polyline stroke="#111" stroke-width="1.4" points="62.60,362.72 70.49,357.98 78.38,353.24 86.27,348.49 94.15,343.73 102.04,338.96 109.93,334.18 117.82,329.38 125.71,324.57 133.59,319.73 141.48,314.89 149.37,310.03 157.26,305.16 165.15,300.29 173.04,295.41 180.92,290.53 188.81,285.65 196.70,280.76 204.59,275.87 212.48,270.98 220.37,266.09 228.25,261.20 236.14,256.31 244.03,251.42 251.92,246.53 259.81,241.63 267.70,236.74 275.58,231.85 283.47,226.95 291.36,222.06 299.25,217.17 307.14,212.27 315.03,207.38 322.92,202.48 330.80,197.59 338.69,192.69 346.58,187.80 354.47,182.90 362.36,178.01 370.25,173.11 378.13,168.22 386.02,163.32 393.91,158.42 401.80,153.53 409.69,148.63 417.57,143.74 425.46,138.84 433.35,133.95 441.24,129.05 449.13,124.15 457.02,119.26 464.91,114.36 472.79,109.47 480.68,104.57 488.57,99.67 496.46,94.78 504.35,89.88 512.24,84.99 520.12,80.09 528.01,75.19 535.90,70.30"/>
<polyline stroke="#111" stroke-width="1.4" points="62.60,364.26 70.49,359.38 78.38,354.51 86.27,349.64 94.15,344.78 102.04,339.94 109.93,335.11 117.82,330.29 125.71,325.49 133.59,320.71 141.48,315.94 149.37,311.19 157.26,306.44 165.15,301.70 173.04,296.96 180.92,292.23 188.81,287.49 196.70,282.77 204.59,278.04 212.48,273.31 220.37,268.59 228.25,263.86 236.14,259.14 244.03,254.42 251.92,249.70 259.81,244.98 267.70,240.25 275.58,235.53 283.47,230.81 291.36,226.09 299.25,221.37 307.14,216.65 315.03,211.93 322.92,207.21 330.80,202.49 338.69,197.77 346.58,193.05 354.47,188.33 362.36,183.61 370.25,178.89 378.13,174.18 386.02,169.46 393.91,164.74 401.80,160.02 409.69,155.30 417.57,150.58 425.46,145.86 433.35,141.14 441.24,136.42 449.13,131.70 457.02,126.99 464.91,122.27 472.79,117.55 480.68,112.83 488.57,108.11 496.46,103.39 504.35,98.67 512.24,93.96 520.12,89.24 528.01,84.52 535.90,79.80"/>
<polyline stroke="#2222c0" points="62.60,367.80 70.49,361.85 78.38,355.91 86.27,349.96 94.15,344.01 102.04,338.07 109.93,332.12 117.82,326.17 125.71,320.23 133.59,314.28 141.48,308.33 149.37,302.39 157.26,296.44 165.15,290.49 173.04,284.55 180.92,278.60 188.81,272.65 196.70,266.71 204.59,260.76 212.48,254.81 220.37,248.87 228.25,242.92 236.14,236.97 244.03,231.03 251.92,225.08 259.81,219.13 267.70,213.19 275.58,207.24 283.47,201.29 291.36,195.35 299.25,189.40 307.14,183.45 315.03,177.51 322.92,171.56 330.80,165.61 338.69,159.67 346.58,153.72 354.47,147.77 362.36,141.83 370.25,135.88 378.13,129.93 386.02,123.99 393.91,118.04 401.80,112.09 409.69,106.15 417.57,100.20 425.46,94.25 433.35,88.31 441.24,82.36 449.13,76.41 457.02,70.47 464.91,64.52 472.79,58.57 480.68,52.63 488.57,46.68 496.46,40.73 504.35,34.79 512.24,28.84 520.12,22.89 528.01,16.95 535.90,11.00"/>
</g>
<g stroke="#000" stroke-width="1.8" fill="none">
<path d="M62.60 10.20 V367.80 H535.90"/>
<path d="M62.60 367.80 v6.0"/>
<path d="M62.60 367.80 h-6.0"/>
<path d="M84.11 367.80 v3.0"/>
<path d="M62.60 351.58 h-3.0"/>
<path d="M105.63 367.80 v6.0"/>
<path d="M62.60 335.36 h-6.0"/>
<path d="M127.14 367.80 v3.0"/>
<path d="M62.60 319.15 h-3.0"/>
<path d="M148.65 367.80 v6.0"/>
<path d="M62.60 302.93 h-6.0"/>
<path d="M170.17 367.80 v3.0"/>
<path d="M62.60 286.71 h-3.0"/>
<path d="M191.68 367.80 v6.0"/>
<path d="M62.60 270.49 h-6.0"/>
<path d="M213.20 367.80 v3.0"/>
<path d="M62.60 254.27 h-3.0"/>
<path d="M234.71 367.80 v6.0"/>
<path d="M62.60 238.05 h-6.0"/>
<path d="M256.22 367.80 v3.0"/>
<path d="M62.60 221.84 h-3.0"/>
<path d="M277.74 367.80 v6.0"/>
<path d="M62.60 205.62 h-6.0"/>
<path d="M299.25 367.80 v3.0"/>
<path d="M62.60 189.40 h-3.0"/>
<path d="M320.76 367.80 v6.0"/>
<path d="M62.60 173.18 h-6.0"/>
<path d="M342.28 367.80 v3.0"/>
<path d="M62.60 156.96 h-3.0"/>
<path d="M363.79 367.80 v6.0"/>
<path d="M62.60 140.75 h-6.0"/>
<path d="M385.30 367.80 v3.0"/>
<path d="M62.60 124.53 h-3.0"/>
<path d="M406.82 367.80 v6.0"/>
<path d="M62.60 108.31 h-6.0"/>
<path d="M428.33 367.80 v3.0"/>
<path d="M62.60 92.09 h-3.0"/>
<path d="M449.85 367.80 v6.0"/>
<path d="M62.60 75.87 h-6.0"/>
<path d="M471.36 367.80 v3.0"/>
<path d="M62.60 59.65 h-3.0"/>
<path d="M492.87 367.80 v6.0"/>
<path d="M62.60 43.44 h-6.0"/>
<path d="M514.39 367.80 v3.0"/>
<path d="M62.60 27.22 h-3.0"/>
<path d="M535.90 367.80 v6.0"/>
<path d="M62.60 11.00 h-6.0"/>
</g>
<g font-size="12.5" fill="#111">
<text x="62.60" y="388.6" text-anchor="middle">0</text>
<text x="52.6" y="372.20" text-anchor="end">0</text>
<text x="105.63" y="388.6" text-anchor="middle">25</text>
<text x="52.6" y="339.76" text-anchor="end">25</text>
<text x="148.65" y="388.6" text-anchor="middle">50</text>
<text x="52.6" y="307.33" text-anchor="end">50</text>
<text x="191.68" y="388.6" text-anchor="middle">75</text>
<text x="52.6" y="274.89" text-anchor="end">75</text>
<text x="234.71" y="388.6" text-anchor="middle">100</text>
<text x="52.6" y="242.45" text-anchor="end">100</text>
<text x="277.74" y="388.6" text-anchor="middle">125</text>
<text x="52.6" y="210.02" text-anchor="end">125</text>
<text x="320.76" y="388.6" text-anchor="middle">150</text>
<text x="52.6" y="177.58" text-anchor="end">150</text>
<text x="363.79" y="388.6" text-anchor="middle">175</text>
<text x="52.6" y="145.15" text-anchor="end">175</text>
<text x="406.82" y="388.6" text-anchor="middle">200</text>
<text x="52.6" y="112.71" text-anchor="end">200</text>
<text x="449.85" y="388.6" text-anchor="middle">225</text>
<text x="52.6" y="80.27" text-anchor="end">225</text>
<text x="492.87" y="388.6" text-anchor="middle">250</text>
<text x="52.6" y="47.84" text-anchor="end">250</text>
<text x="535.90" y="388.6" text-anchor="middle">275</text>
<text x="52.6" y="15.40" text-anchor="end">275</text>
</g>
<text x="299.1" y="421.5" text-anchor="middle" font-weight="bold" font-size="21.9" fill="#000">Observed runoff (m<tspan font-size="13" dy="-8.5">3</tspan><tspan dy="8.5" letter-spacing="0.45">/sec)</tspan></text>
<text transform="translate(21.8,189.6) rotate(-90)" x="0" y="0" text-anchor="middle" font-weight="bold" font-size="22.1" fill="#000">Predicted runoff (m<tspan font-size="13" dy="-8.5">3</tspan><tspan dy="8.5">/sec)</tspan></text>
<text transform="translate(273.4,448.2)" text-anchor="middle" font-family="Liberation Serif,serif" font-size="18.5" fill="#000">(<tspan font-weight="bold">a</tspan>)</text>
<rect x="69.5" y="11.4" width="191.5" height="100.2" fill="#fff"/>
<rect x="69.5" y="11.4" width="191.5" height="33.4" fill="#e3e3e3"/>
<g stroke="#d8d8d8" stroke-width="1">
<path d="M69.5 61.5 H261.0"/>
<path d="M69.5 78.2 H261.0"/>
<path d="M69.5 94.9 H261.0"/>
<path d="M153.5 28.1 V111.6"/>
</g>
<g stroke="#9c9c9c" stroke-width="1.15" fill="none">
<rect x="69.5" y="11.4" width="191.5" height="100.2"/>
<path d="M69.5 44.8 H261.0"/>
<path stroke="#c4c4c4" stroke-width="1" d="M70.1 28.1 H260.4 M153.5 28.1 V44.8"/>
</g>
<g font-size="12.75" fill="#111">
<text x="166.7" y="24.0" text-anchor="middle" font-size="12.6">y = (3.32347) + (0.808405) * x</text>
<text x="207.8" y="40.7" text-anchor="middle">Predicted runoff</text>
<text x="73.1" y="57.4">Pearson&#39;s r</text>
<text x="258.6" y="57.4" text-anchor="end">0.89915</text>
<text x="73.1" y="74.1">Adj. R-Square</text>
<text x="258.6" y="74.1" text-anchor="end">0.80841</text>
<text x="73.1" y="90.8">Intercept</text>
<text x="258.6" y="90.8" text-anchor="end">3.32347 ± 0.2229</text>
<text x="73.1" y="107.5">Slope</text>
<text x="258.6" y="107.5" text-anchor="end">0.8084 ± 0.00665</text>
</g>
<circle cx="295.9" cy="21.2" r="4.0" fill="none" stroke="#555" stroke-width="0.8"/>
<path d="M283 34.6 H308.6" stroke="#d83030" stroke-width="1.7"/>
<path d="M283 48.0 H308.6" stroke="#1f8a1f" stroke-width="1.7"/>
<path d="M283 61.4 H308.6" stroke="#1a1a1a" stroke-width="1.7"/>
<path d="M283 74.8 H308.6" stroke="#2222c0" stroke-width="1.7"/>
<g font-size="11.05" fill="#111">
<text x="311.6" y="25.1">Predicted runoff</text>
<text x="311.6" y="38.5">Fitted Y of Predicted runoff</text>
<text x="311.6" y="51.9">95% Prediction Band of Predicted runoff</text>
<text x="311.6" y="65.3">95% Confidence Band of Predicted runoff</text>
<text x="311.6" y="78.7">Line 1:1</text>
</g>
</svg></body></html>
